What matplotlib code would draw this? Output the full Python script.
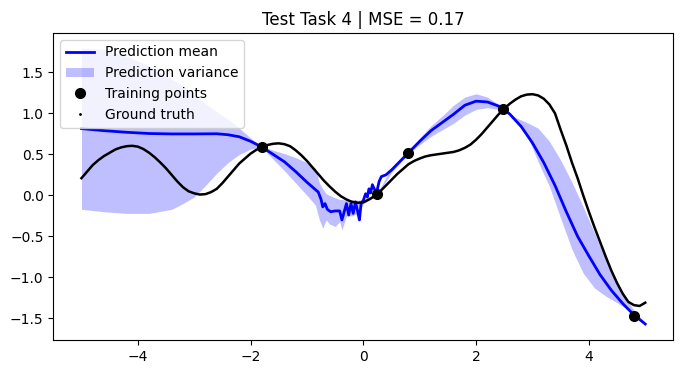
import numpy as np
import matplotlib
matplotlib.use("Agg")
import matplotlib.pyplot as plt
from matplotlib.lines import Line2D

# ground truth at 0.1 steps
truth_x = np.round(np.arange(-5.0, 5.01, 0.1), 2)
truth_y = [0.21, 0.29, 0.37, 0.43, 0.48, 0.52, 0.56, 0.585, 0.60, 0.605,
           0.595, 0.565, 0.52, 0.465, 0.40, 0.33, 0.25, 0.17, 0.10, 0.05,
           0.025, 0.01, 0.015, 0.04, 0.08, 0.15, 0.23, 0.31, 0.39, 0.45,
           0.51, 0.555, 0.59, 0.615, 0.63, 0.635, 0.625, 0.60, 0.55, 0.49,
           0.42, 0.34, 0.26, 0.18, 0.11, 0.045, -0.01, -0.05, -0.08, -0.09,
           -0.085, -0.05, -0.01, 0.05, 0.12, 0.19, 0.26, 0.32, 0.38, 0.42,
           0.45, 0.475, 0.49, 0.50, 0.51, 0.52, 0.53, 0.55, 0.58, 0.62,
           0.68, 0.75, 0.83, 0.91, 0.99, 1.06, 1.12, 1.17, 1.21, 1.23,
           1.235, 1.22, 1.18, 1.11, 1.00, 0.80, 0.61, 0.40, 0.21, 0.00,
           -0.20, -0.39, -0.57, -0.75, -0.92, -1.07, -1.20, -1.30, -1.34, -1.35,
           -1.31]

# prediction mean
mean_x = [-5.0, -4.6, -4.2, -3.8, -3.4, -3.0, -2.6, -2.4, -2.2, -2.0,
          -1.8, -1.6, -1.4, -1.2, -1.0, -0.8, -0.75, -0.72, -0.68, -0.64,
          -0.58, -0.5, -0.42, -0.38, -0.34, -0.3, -0.26, -0.22, -0.18, -0.14,
          -0.1, -0.07, -0.04, 0.0, 0.04, 0.07, 0.1, 0.13, 0.16, 0.2,
          0.24, 0.28, 0.32, 0.4, 0.5, 0.6, 0.8, 1.0, 1.2, 1.4,
          1.6, 1.8, 2.0, 2.2, 2.4, 2.5, 2.6, 2.8, 3.0, 3.2,
          3.4, 3.6, 3.8, 4.0, 4.2, 4.4, 4.6, 4.8, 5.0]
mean_y = [0.815, 0.79, 0.77, 0.755, 0.75, 0.75, 0.752, 0.74, 0.715, 0.66,
          0.59, 0.50, 0.41, 0.29, 0.16, 0.04, -0.05, -0.14, -0.10, -0.17,
          -0.20, -0.19, -0.19, -0.30, -0.20, -0.10, -0.24, -0.10, -0.22, -0.08,
          -0.20, -0.30, -0.10, -0.06, 0.02, -0.02, 0.08, 0.03, 0.13, 0.07,
          0.05, 0.17, 0.23, 0.25, 0.31, 0.38, 0.52, 0.66, 0.79, 0.89,
          0.99, 1.10, 1.15, 1.14, 1.09, 1.05, 0.99, 0.84, 0.64, 0.40,
          0.12, -0.20, -0.50, -0.74, -0.97, -1.16, -1.32, -1.46, -1.57]

# prediction variance band
band_x = [-5.0, -4.6, -4.2, -3.8, -3.4, -3.2, -3.0, -2.8, -2.6, -2.4,
          -2.2, -2.0, -1.8, -1.6, -1.4, -1.2, -1.0, -0.85, -0.78, -0.72,
          -0.66, -0.6, -0.5, -0.42, -0.38, -0.3, -0.2, -0.1, 0.0, 0.25,
          0.5, 0.8, 1.0, 1.2, 1.4, 1.6, 1.8, 2.0, 2.2, 2.5,
          2.7, 2.9, 3.1, 3.3, 3.5, 3.7, 3.9, 4.1, 4.3, 4.5,
          4.7, 4.8, 5.0]
band_lo = [-0.17, -0.20, -0.22, -0.22, -0.17, -0.10, -0.02, 0.12, 0.27, 0.40,
           0.50, 0.565, 0.585, 0.44, 0.30, 0.15, 0.00, -0.12, -0.30, -0.40,
           -0.30, -0.35, -0.38, -0.32, -0.42, -0.25, -0.25, -0.22, -0.10, 0.00,
           0.28, 0.51, 0.62, 0.72, 0.80, 0.88, 0.98, 1.05, 1.07, 1.04,
           0.90, 0.74, 0.41, 0.11, -0.28, -0.66, -0.95, -1.13, -1.23, -1.31,
           -1.40, -1.45, -1.57]
band_hi = [1.80, 1.78, 1.70, 1.58, 1.42, 1.34, 1.22, 1.12, 1.02, 0.93,
           0.82, 0.70, 0.60, 0.55, 0.51, 0.46, 0.40, 0.33, 0.15, 0.08,
           0.02, 0.00, -0.03, -0.05, -0.05, -0.06, -0.05, -0.06, -0.05, 0.03,
           0.34, 0.53, 0.70, 0.85, 0.97, 1.10, 1.20, 1.24, 1.20, 1.06,
           0.95, 0.89, 0.82, 0.66, 0.43, 0.16, -0.14, -0.46, -0.78, -1.05,
           -1.30, -1.40, -1.56]

train_x = [-1.79, 0.24, 0.79, 2.48, 4.80]
train_y = [0.59, 0.015, 0.52, 1.05, -1.467]

fig, ax = plt.subplots(figsize=(6.83, 3.74), dpi=100)
fig.subplots_adjust(left=0.078, right=0.986, top=0.912, bottom=0.091)

ax.plot(mean_x, mean_y, 'b-', linewidth=2, label='Prediction mean')
ax.fill_between(band_x, band_lo, band_hi, color='blue', alpha=0.25,
                linewidth=0, label='Prediction variance')
ax.plot(train_x, train_y, 'ko', markersize=7, label='Training points')
ax.plot(truth_x, truth_y, 'k-', linewidth=1.8)

handles, labels = ax.get_legend_handles_labels()
handles.append(Line2D([], [], color='k', marker='.', markersize=2, linestyle='none'))
labels.append('Ground truth')
ax.legend(handles, labels, loc='upper left')

ax.set_xlim(-5.5, 5.5)
ax.set_ylim(-1.765, 1.983)
ax.set_yticks([-1.5, -1.0, -0.5, 0.0, 0.5, 1.0, 1.5])
ax.set_title('Test Task 4 | MSE = 0.17')

plt.savefig('out.png', dpi=100)
